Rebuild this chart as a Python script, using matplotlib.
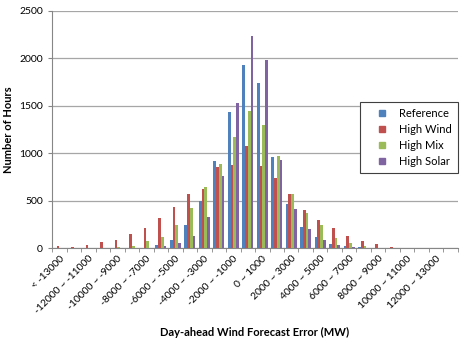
import matplotlib
matplotlib.use('Agg')
import matplotlib.pyplot as plt
from matplotlib.lines import Line2D
import numpy as np

plt.rcParams['font.family'] = ['Lato', 'DejaVu Sans']

bins = ['< -13000'] + ['%d ~ %d' % (a, a + 1000) for a in range(-13000, 13000, 1000)] + ['> 13000']

reference = [0, 0, 0, 0, 0, 0, 6, 37, 90, 244, 500, 922, 1433, 1930, 1743, 965, 465,
             224, 115, 49, 24, 10, 2, 0, 0, 0, 0, 0]
high_wind = [22, 18, 37, 62, 90, 146, 212, 320, 430, 571, 627, 852, 877, 1077, 863, 739, 574,
             406, 297, 210, 129, 75, 48, 12, 5, 1, 1, 5]
high_mix = [0, 0, 2, 4, 10, 22, 75, 118, 245, 420, 648, 887, 1176, 1440, 1292, 975, 574,
            371, 241, 108, 56, 21, 6, 1, 0, 0, 0, 0]
high_solar = [0, 0, 0, 0, 0, 2, 4, 28, 51, 134, 331, 764, 1525, 2229, 1986, 933, 415,
              206, 84, 35, 17, 7, 1, 0, 0, 0, 0, 3]

series = [('Reference', reference, '#4F81BD'),
          ('High Wind', high_wind, '#C0504D'),
          ('High Mix', high_mix, '#9BBB59'),
          ('High Solar', high_solar, '#8064A2')]

fig = plt.figure(figsize=(4.74, 3.43), dpi=100)
ax = fig.add_axes([0.110, 0.276, 0.856, 0.693])

x = np.arange(len(bins))
w = 0.19
for i, (name, vals, col) in enumerate(series):
    ax.bar(x + (i - 1.5) * w, vals, w, color=col, label=name, zorder=3)

ax.set_xlim(-0.5, len(bins) - 0.5)
ax.set_ylim(0, 2500)
ax.set_yticks(range(0, 2501, 500))
ax.grid(axis='y', color='#A6A6A6', linewidth=0.9, zorder=0)
for s in ['top', 'right']:
    ax.spines[s].set_visible(False)
for s in ['left', 'bottom']:
    ax.spines[s].set_color('#868686')

ax.set_xticks(x[::2])
ax.set_xticklabels(bins[::2], rotation=45, ha='right', rotation_mode='anchor', fontsize=7.5)
ax.set_xticks(np.arange(-0.5, len(bins), 1), minor=True)
ax.tick_params(axis='x', which='major', length=0, pad=4)
ax.tick_params(axis='x', which='minor', length=3, color='#868686')
ax.tick_params(axis='y', length=3, color='#868686', labelsize=7.5)

ax.set_ylabel('Number of Hours', fontsize=8, fontweight='bold')
ax.set_xlabel('Day-ahead Wind Forecast Error (MW)', fontsize=8, fontweight='bold', labelpad=8)

handles = [Line2D([], [], marker='s', linestyle='', markersize=5, color=col) for _, _, col in series]
names = [name for name, _, _ in series]
leg = ax.legend(handles, names, loc='upper right', bbox_to_anchor=(1.0, 0.615), borderaxespad=0,
                fontsize=8, handlelength=3.0, handletextpad=0.0, fancybox=False, framealpha=1,
                borderpad=0.55, labelspacing=0.45)
leg.get_frame().set_edgecolor('#404040')
leg.get_frame().set_linewidth(0.8)

plt.savefig('out.png', dpi=100)
